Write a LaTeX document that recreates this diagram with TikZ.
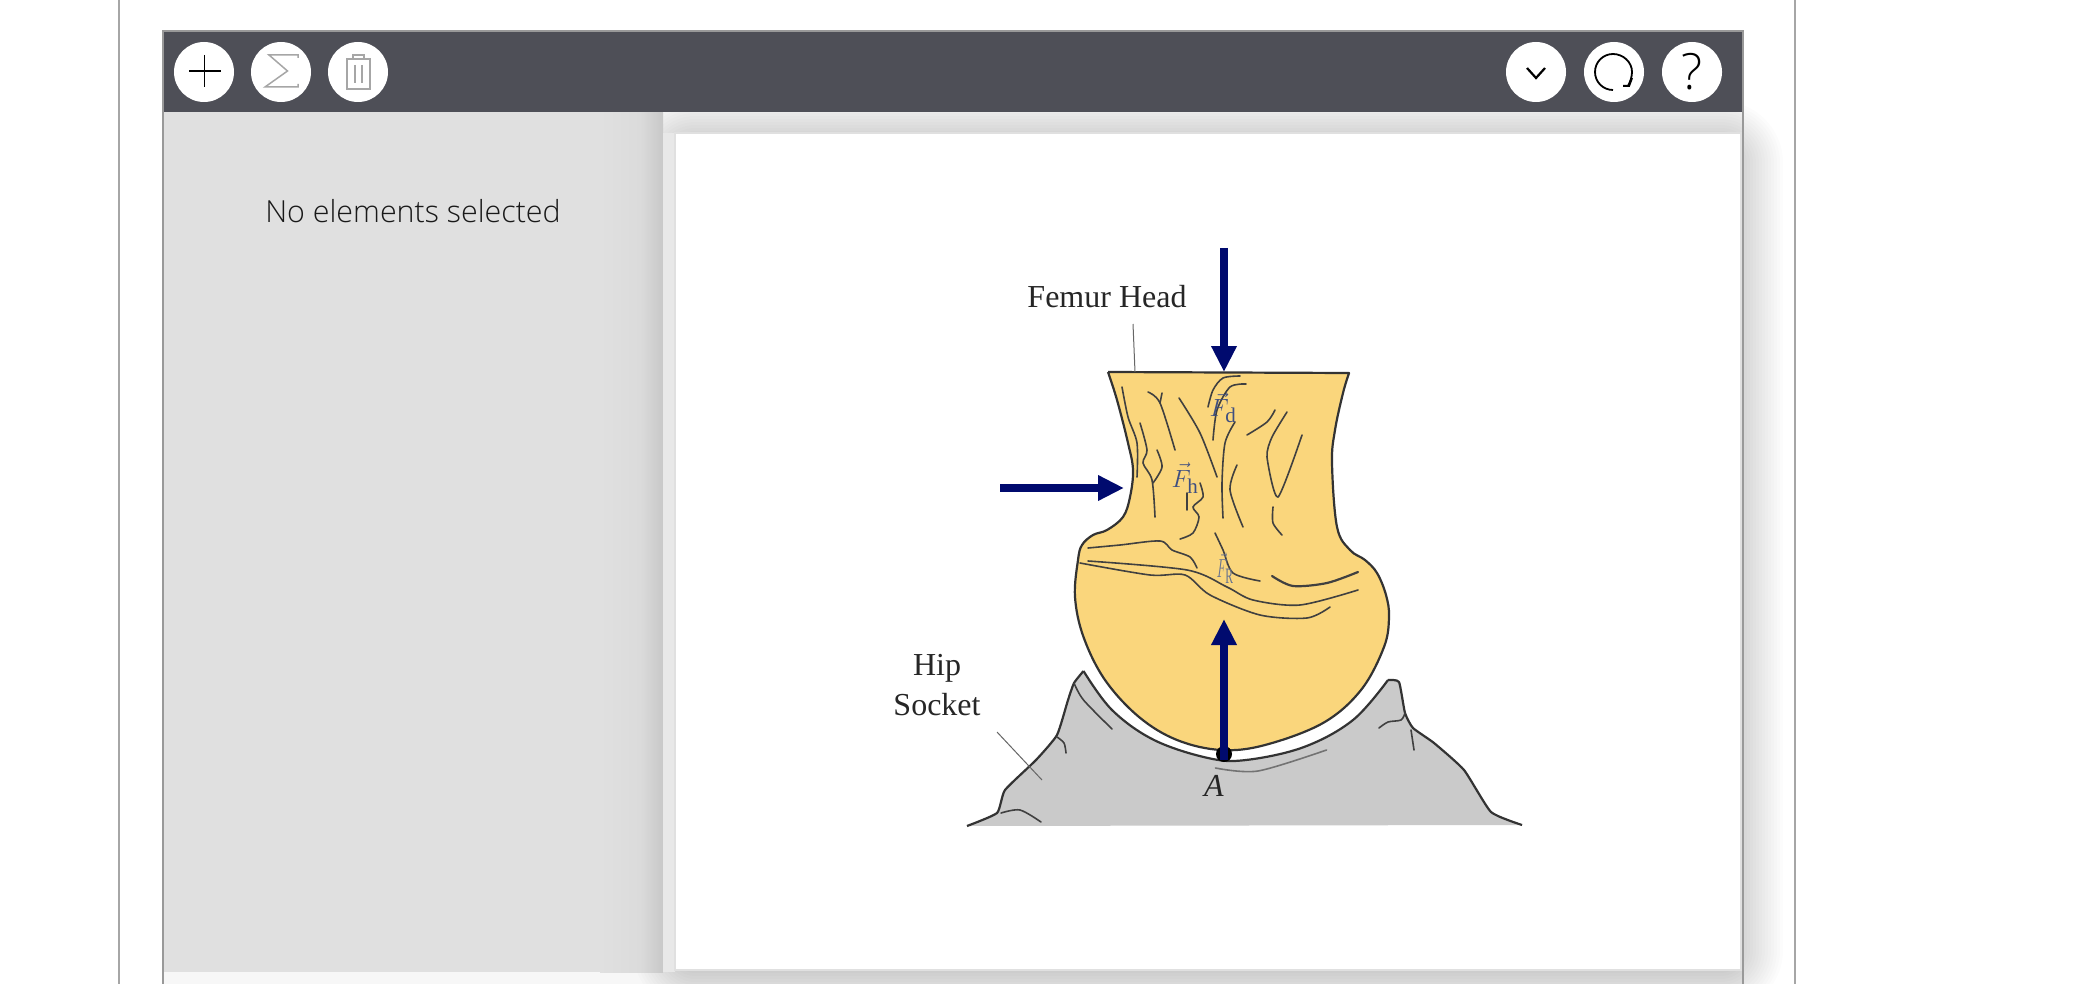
\documentclass[tikz,border=0pt]{standalone}
\usepackage{amsmath}
\usepackage{graphicx}
\usepackage{fontspec}
\setmainfont{Liberation Serif}
\newfontfamily\uifont{Open Sans Light}
\usepackage{tikz}
\usetikzlibrary{arrows.meta,positioning}

\definecolor{barcol}{HTML}{4E4F57}
\definecolor{panelcol}{HTML}{E0E0E0}
\definecolor{panelmid}{HTML}{DBDBDB}
\definecolor{paneledge}{HTML}{C8C8C8}
\definecolor{femurcol}{HTML}{FAD67C}
\definecolor{socketcol}{HTML}{CACACA}
\definecolor{forcecol}{HTML}{000A6E}
\definecolor{labelcol}{HTML}{3F4F80}
\definecolor{blobcol}{HTML}{66728F}
\definecolor{iconcol}{HTML}{A6A6A6}

\begin{document}
\begin{tikzpicture}[%
    x=1pt,y=-1pt,
    node distance=77pt,
    on grid,
    toolbtn/.style={circle,fill=white,inner sep=0pt,minimum size=60pt},
    bone/.style={draw=black!80,line width=2.2pt,line join=round},
    crack/.style={draw=black!75,line width=1.6pt,line cap=round},
    leader/.style={draw=black!60,line width=1pt},
    forcearrow/.style={draw=forcecol,line width=8pt,-{Triangle[width=24pt,length=26pt,fill=forcecol]}},
    figlabel/.style={font=\fontsize{32}{38}\selectfont,text=black!85,align=center,inner sep=0pt},
    forcelabel/.style={font=\fontsize{30}{34}\selectfont,text=labelcol,inner sep=0pt}
  ]
  \useasboundingbox (0,0) rectangle (2076,984);
  \fill[white] (0,0) rectangle (2076,984);

  \fill[black!3] (163,112) rectangle (1743,984);
  \foreach \e in {3,6,...,42}
    \fill[black,opacity=0.013,rounded corners=\e+20] (675-\e,143-\e) rectangle (1741+\e,970+\e);
  \fill[panelcol] (163,112) rectangle (600,972);
  \shade[left color=panelcol,right color=panelmid] (600,112) rectangle (640,972);
  \shade[left color=panelmid,right color=paneledge] (640,112) rectangle (663,972);
  \fill[black!9] (663,133) rectangle (675,972);

  \fill[barcol] (163,32) rectangle (1743,112);
  \draw[black!40,line width=2pt] (163,984) -- (163,31) -- (1743,31) -- (1743,984);
  \draw[black!35,line width=2pt] (119,0) -- (119,984);
  \draw[black!35,line width=2pt] (1795,0) -- (1795,984);
  \fill[white,draw=panelcol,line width=2pt] (675,133) rectangle (1741,970);

  \node[toolbtn] (addbtn) at (204,72) {};
  \node[toolbtn] (sumbtn) [right of=addbtn] {};
  \node[toolbtn] (trashbtn) [right of=sumbtn] {};
  \node[toolbtn] (morebtn) at (1536,72) {};
  \node[toolbtn] (redobtn) [right of=morebtn,node distance=78pt] {};
  \node[toolbtn] (helpbtn) [right of=redobtn,node distance=78pt] {};

  \draw[line width=1.5pt] (189,71) -- (220.5,71) (204.5,55) -- (204.5,87);
  \draw[iconcol,line width=1.5pt] (298,58) -- (298,55) -- (269,55) -- (287.5,71) -- (265,87) -- (298,87) -- (298,84);
  \draw[iconcol,line width=2pt] (347,59) rectangle (370,89);
  \draw[iconcol,line width=2.5pt] (346,59) -- (371,59);
  \draw[iconcol,line width=1.5pt] (353,59) -- (353,55) -- (364,55) -- (364,59);
  \draw[iconcol,line width=2pt] (354.5,65) -- (354.5,83) (362,65) -- (362,83);
  \draw[line width=2.2pt] (1527,68) -- (1536,78) -- (1545,68);
  \draw[line width=1.8pt] (1613,90) .. controls (1603,90) and (1595,82) .. (1595,72)
    .. controls (1595,62) and (1603,54) .. (1613,54)
    .. controls (1623,54) and (1632,62) .. (1632,72)
    .. controls (1632,77) and (1630,82) .. (1628,86);
  \draw[line width=2pt] (1623,86) -- (1629,86) -- (1632,78);
  \node[font=\uifont\fontsize{50}{60}\selectfont,inner sep=0pt] (helpmark) at (helpbtn) {?};

  \node[font=\uifont\fontsize{30.4}{36}\selectfont,text=black!90,inner sep=0pt] (status) at (413,211) {No elements selected};

  \fill[socketcol] plot[smooth,tension=.3] coordinates {(967,826) (997,813) (1005,790) (1036,760) (1057,735) (1068,700) (1074,683) (1083.5,671)}
    -- plot[smooth,tension=.6] coordinates {(1083.5,671) (1112,710) (1154,740) (1208,758) (1246,760) (1304,747) (1353,720) (1388,680)}
    -- plot[smooth,tension=.3] coordinates {(1388,680) (1399,682) (1405,713) (1413,728) (1434,743) (1464,770) (1491,812) (1522,825)} -- cycle;
  \draw[bone] plot[smooth,tension=.3] coordinates {(967,826) (997,813) (1005,790) (1036,760) (1057,735) (1068,700) (1074,683) (1083.5,671)};
  \draw[bone] plot[smooth,tension=.6] coordinates {(1083.5,671) (1112,710) (1154,740) (1208,758) (1246,760) (1304,747) (1353,720) (1388,680)};
  \draw[bone] plot[smooth,tension=.3] coordinates {(1388,680) (1399,682) (1405,713) (1413,728) (1434,743) (1464,770) (1491,812) (1522,825)};
  \draw[crack] plot[smooth] coordinates {(1074,683) (1083.5,700) (1112,729)};
  \draw[crack] plot[smooth] coordinates {(1057,737) (1064,743) (1066,753)};
  \draw[crack] plot[smooth] coordinates {(1001,813) (1020,810) (1041,822)};
  \draw[crack,draw=black!55] plot[smooth] coordinates {(1215.5,768) (1258,771) (1326.5,750)};
  \draw[crack] plot[smooth] coordinates {(1379,728) (1388,722) (1401,720) (1405,713)};
  \draw[crack] plot[smooth] coordinates {(1411,730) (1414,750)};

  \fill[femurcol] (1108,372) -- (1349,373) -- plot[smooth,tension=.6] coordinates {(1349,373) (1343,393) (1335,430) (1332,463) (1337,527) (1350,550) (1365,560) (1377,573) (1386,595) (1389,617) (1384,647) (1361,690) (1323,723) (1265,745) (1221,750) (1177,740) (1139,717) (1105,680) (1083.5,637) (1075,597) (1078,560) (1082,545) (1093,535) (1107,530) (1123,517) (1130,497) (1133,470) (1128,443) (1117,400) (1108,372)} -- cycle;
  \draw[bone] (1108,372) -- (1349,373) -- plot[smooth,tension=.6] coordinates {(1349,373) (1343,393) (1335,430) (1332,463) (1337,527) (1350,550) (1365,560) (1377,573) (1386,595) (1389,617) (1384,647) (1361,690) (1323,723) (1265,745) (1221,750) (1177,740) (1139,717) (1105,680) (1083.5,637) (1075,597) (1078,560) (1082,545) (1093,535) (1107,530) (1123,517) (1130,497) (1133,470) (1128,443) (1117,400) (1108,372)};

  \draw[crack] plot[smooth] coordinates {(1122,387) (1128,417) (1137,443) (1137,477)};
  \draw[crack] plot[smooth] coordinates {(1148,392) (1160,403) (1175,450)};
  \draw[crack] (1162,393) -- (1160,403);
  \draw[crack] plot[smooth] coordinates {(1140,423) (1147,450) (1143,463) (1152,480) (1155,517)};
  \draw[crack] plot[smooth] coordinates {(1157,450) (1162,467) (1153,483)};
  \draw[crack] plot[smooth] coordinates {(1179,398) (1200,433) (1217,477)};
  \draw[crack] plot[smooth] coordinates {(1240,376) (1223,378) (1213,390) (1208,407)};
  \draw[crack] plot[smooth] coordinates {(1246,384) (1230,387) (1217,410) (1213,440)};
  \draw[crack] plot[smooth] coordinates {(1235,422) (1225,443) (1222,483) (1223,518)};
  \draw[crack] plot[smooth] coordinates {(1237,465) (1230,490) (1243,527)};
  \draw[crack] plot[smooth] coordinates {(1247,435) (1267,422) (1275,410)};
  \draw[crack] plot[smooth,tension=.4] coordinates {(1287,412) (1272,437) (1267,457) (1278,497) (1302,435)};
  \draw[crack] plot[smooth] coordinates {(1273,507) (1273,523) (1282,535)};
  \draw[crack] plot[smooth] coordinates {(1200,483) (1203,497) (1193,507) (1199,517) (1193,533) (1180,539)};
  \draw[crack] (1187,493) -- (1187,510);
  \draw[crack] plot[smooth] coordinates {(1088,548) (1120,545) (1160,541) (1172,550) (1190,557) (1197,568)};
  \draw[crack] plot[smooth] coordinates {(1088,561) (1187,570) (1227,587) (1253,600) (1300,605) (1358,590)};
  \draw[crack] plot[smooth] coordinates {(1080,563) (1150,575) (1185,575) (1210,595) (1260,615) (1307,618) (1330,607)};
  \draw[crack,line width=2.2pt] plot[smooth] coordinates {(1272,576) (1293,586) (1327,583) (1358,572)};
  \draw[crack] plot[smooth] coordinates {(1215,533) (1223,550) (1233,573) (1260,581)};

  \node[forcelabel] (fd) at (1223,408) {$\vec{F}_{\mathrm{d}}$};
  \node[forcelabel] (fh) at (1185,478) {$\vec{F}_{\mathrm{h}}$};
  \node[forcelabel,text=blobcol] (fr) at (1225,568) {\scalebox{0.55}[1.05]{$\vec{F}_{\mathrm{R}}$}};

  \node[figlabel] (femurlabel) at (1107,297) {Femur Head};
  \node[figlabel] (hiplabel) at (937,668) {Hip};
  \node[figlabel] (socketlabel) [below of=hiplabel,node distance=37pt] {Socket};
  \node[figlabel,font=\itshape\fontsize{32}{38}\selectfont] (pointa) at (1214,786) {A};

  \coordinate (femurtop) at (1135,372);
  \coordinate (sockettip) at (1042,780);
  \draw[leader] (1133,324) -- (femurtop);
  \draw[leader] (997,732) -- (sockettip);

  \coordinate (topstart) at (1224,248);
  \coordinate (toptip) at (1224,372);
  \coordinate (leftstart) at (1000,488);
  \coordinate (lefttip) at (1124,488);
  \coordinate (pivot) at (1224,760);
  \coordinate (uptip) at (1224,619);
  \fill[black] (1224,754) circle (8pt);
  \draw[forcearrow] (topstart) -- (toptip);
  \draw[forcearrow] (leftstart) -- (lefttip);
  \draw[forcearrow] (pivot) -- (uptip);
\end{tikzpicture}
\end{document}
